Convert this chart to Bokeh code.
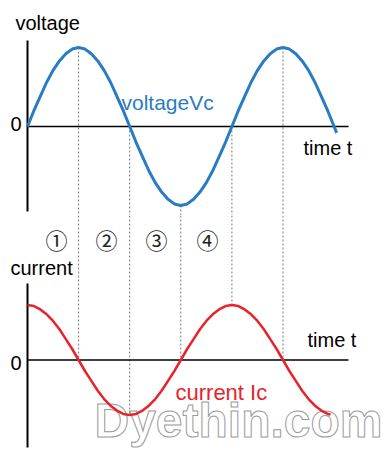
from bokeh.plotting import figure
from bokeh.models import Range1d, Label
from bokeh.layouts import column
from bokeh.embed import file_html
from bokeh.resources import INLINE

# ---------------- data (time in quarter periods) ----------------
time_v = [i * 0.125 for i in range(49)] + [6.05]
voltage = [0, .20, .38, .56, .71, .83, .92, .98, 1.0,
           .98, .92, .83, .71, .56, .38, .20, 0,
           -.20, -.38, -.56, -.71, -.83, -.92, -.98, -1.0,
           -.98, -.92, -.83, -.71, -.56, -.38, -.20, 0,
           .20, .38, .56, .71, .83, .92, .98, 1.0,
           .98, .92, .83, .71, .56, .38, .20, 0,
           -.08]
time_c = [i * 0.125 for i in range(48)] + [5.93]
current = [1.0, .98, .92, .83, .71, .56, .38, .20, 0,
           -.20, -.38, -.56, -.71, -.83, -.92, -.98, -1.0,
           -.98, -.92, -.83, -.71, -.56, -.38, -.20, 0,
           .20, .38, .56, .71, .83, .92, .98, 1.0,
           .98, .92, .83, .71, .56, .38, .20, 0,
           -.20, -.38, -.56, -.71, -.83, -.92, -.98,
           -.99]
mark_t = [1, 2, 3, 4, 5]
mark_v = [1, 0, -1, 0, 1]
mark_c = [0, -1, 0, 1, 0]
phase_labels = ["①", "②", "③", "④"]

BLUE = "#2a7cc2"
RED = "#e8232a"
DASH = "#7a7a7a"
FONT = "Liberation Sans"

# ---------------- layout helpers (page pixels -> data) ----------------
W, H1, H2 = 386, 215, 244
X0, SX = 27.0, 51.1
V_ZERO, V_AMP = 126.0, 79.0
C_ZERO, C_AMP = 359.5, 55.0
BASE_FIX = 0.36  # alphabetic baseline correction (fraction of font size)

def tx(px):
    return (px - X0) / SX

def vy(py):
    return (V_ZERO - py) / V_AMP

def cy(py):
    return (C_ZERO - py) / C_AMP

def make_fig(h, yr):
    f = figure(width=W, height=h, x_range=Range1d(tx(0), tx(W)), y_range=yr,
               x_axis_location=None, y_axis_location=None,
               toolbar_location=None, output_backend="svg", min_border=0)
    f.grid.visible = False
    f.outline_line_color = None
    f.background_fill_color = "white"
    f.border_fill_color = "white"
    return f

def lab(f, conv, xp, yp, text, color="black", size=20, align="left",
        font=FONT, **kw):
    """xp: pixel x, yp: pixel baseline y"""
    f.add_layout(Label(x=tx(xp), y=conv(yp - BASE_FIX * size), text=text,
                       text_color=color, text_font_size=f"{size}px",
                       text_font=font, text_align=align,
                       text_baseline="alphabetic", **kw))

# ---------------- voltage panel ----------------
pv = make_fig(H1, Range1d(vy(H1), vy(0)))
bottom_v = vy(H1)
pv.segment(x0=mark_t, y0=mark_v, x1=mark_t, y1=[bottom_v] * len(mark_t),
           line_color=DASH, line_width=1, line_dash="2 2")
pv.segment(x0=[0], y0=[vy(40)], x1=[0], y1=[vy(211)], line_color="black", line_width=2)
pv.segment(x0=[0], y0=[0], x1=[tx(348)], y1=[0], line_color="black", line_width=1.6)
pv.line(time_v, voltage, line_color=BLUE, line_width=3)

lab(pv, vy, 15, 30, "voltage")
lab(pv, vy, 21, 131, "0", align="right")
lab(pv, vy, 303, 155, "time t")
lab(pv, vy, 121, 110, "voltageVc", color=BLUE, size=21)

# ---------------- current panel ----------------
pc = make_fig(H2, Range1d(cy(459), cy(H1)))
top_c = cy(H1)
pc.segment(x0=mark_t, y0=[top_c] * len(mark_t), x1=mark_t, y1=mark_c,
           line_color=DASH, line_width=1, line_dash="2 2")
pc.segment(x0=[0], y0=[cy(283)], x1=[0], y1=[cy(447)], line_color="black", line_width=2)
pc.segment(x0=[0], y0=[0], x1=[tx(348)], y1=[0], line_color="black", line_width=1.6)

for cx, txt in zip([56, 106, 156, 207], phase_labels):
    pc.add_layout(Label(x=tx(cx), y=cy(238), text=txt, text_color="#222222",
                        text_font_size="22px", text_font="Noto Sans CJK JP",
                        text_align="center", text_baseline="middle"))

lab(pc, cy, 94, 437, "Dyethin.com", color="white", size=48,
    text_outline_color="#9a9a9a", text_font_style="bold", level="underlay")
pc.line(time_c, current, line_color=RED, line_width=2.5)

lab(pc, cy, 10, 275, "current")
lab(pc, cy, 21, 370, "0", align="right")
lab(pc, cy, 307, 347, "time t")
lab(pc, cy, 175, 400, "current Ic", color=RED, size=22)

layout = column(pv, pc, spacing=0)
open("out.html", "w").write(file_html(layout, INLINE))
